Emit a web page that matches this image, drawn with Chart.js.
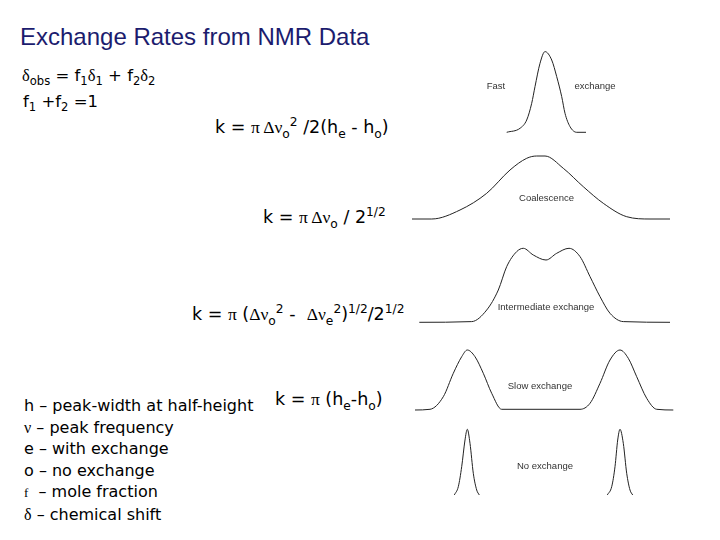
<!DOCTYPE html>
<html lang="en">
<head>
  <meta charset="UTF-8">
  <title>Exchange Rates from NMR Data</title>
  <script src="https://cdn.jsdelivr.net/npm/chart.js"></script>
  <style>
    html, body { margin: 0; padding: 0; background: #fff; }
    body { width: 720px; height: 540px; position: relative; overflow: hidden;
           font-family: "DejaVu Sans", Verdana, sans-serif; color: #000; }
    .t { position: absolute; white-space: nowrap; line-height: 1; }
    .title { left: 20px; top: 25px; font-family: "Liberation Sans", Arial, sans-serif;
             font-size: 24px; color: #1c1c6e; }
    .sym { font-family: "Liberation Serif", "Times New Roman", serif; }
    sub, sup { font-size: 70%; line-height: 0; }
    .eq { font-size: 17.5px; }
    .small { font-size: 16.5px; }
    .legend { left: 24px; top: 395px; font-size: 16px; line-height: 21.5px; }
    #spectra { position: absolute; left: 410px; top: 40px; width: 310px; height: 480px; }
  </style>
</head>
<body>
<div class="t title">Exchange Rates from NMR Data</div>

<div class="t small" style="left:22px; top:68px;"><span class="sym">&delta;</span><sub>obs</sub> = f<sub>1</sub><span class="sym">&delta;</span><sub>1</sub> + f<sub>2</sub><span class="sym">&delta;</span><sub>2</sub></div>
<div class="t small" style="left:23px; top:94px;">f<sub>1</sub> +f<sub>2</sub> =1</div>

<div class="t eq" style="left:215px; top:119px;">k = <span class="sym">&pi; &Delta;&nu;</span><sub>o</sub><sup>2</sup> /2(h<sub>e</sub> - h<sub>o</sub>)</div>
<div class="t eq" style="left:263px; top:209px;">k = <span class="sym">&pi; &Delta;&nu;</span><sub>o</sub> / 2<sup>1/2</sup></div>
<div class="t eq" style="left:192px; top:306px;">k = <span class="sym">&pi;</span> (<span class="sym">&Delta;&nu;</span><sub>o</sub><sup>2</sup> -&nbsp; <span class="sym">&Delta;&nu;</span><sub>e</sub><sup>2</sup>)<sup>1/2</sup>/2<sup>1/2</sup></div>
<div class="t eq" style="left:275px; top:391px;">k = <span class="sym">&pi;</span> (h<sub>e</sub>-h<sub>o</sub>)</div>

<div class="t legend">
  h &ndash; peak-width at half-height<br>
  <span class="sym">&nu;</span> &ndash; peak frequency<br>
  e &ndash; with exchange<br>
  o &ndash; no exchange<br>
  <span class="sym" style="font-size:13px">f</span> &nbsp;&ndash; mole fraction<br>
  <span class="sym">&delta;</span> &ndash; chemical shift
</div>

<div id="spectra"><canvas id="nmrChart"></canvas></div>

<script>
  // frequency offsets (arbitrary units) and peak intensities
  const fastFreq = [-38.3, -25, -18.3, -13.3, -10, -5, 0, 6.7, 11.7, 16.7, 20, 25, 31.7, 41];
  const fastInt  = [0, 4, 12.3, 29, 45.7, 69, 80.7, 72.3, 55.7, 35.7, 19, 5.7, 0, 0];

  const coalFreq = [-133, -113.3, -85, -58.3, -35, -18.3, -8.3, 0, 18.3, 38.3, 58.3, 81.7, 105, 125];
  const coalInt  = [0, 0, 9, 25.7, 49, 60.7, 63, 63, 50.7, 32.3, 15.7, 2.3, 0, 0];

  const interFreq = [-125.7, -73.3, -58.3, -46.7, -38.3, -28.3, -21.7, -11.7, 1, 11.7, 24, 35, 45, 55, 65, 78.3, 125];
  const interInt  = [0, 0.7, 12.3, 32.3, 55.7, 70.7, 74, 67.3, 62.3, 69, 74, 65.7, 45.7, 25.7, 9, 0.7, 0];

  const slowFreq = [-130, -115, -101.7, -91.7, -83.3, -77.7, -70, -61.7, -53.3, -43.3, 35, 45, 55, 65, 75, 83.3, 91.7, 101.7, 111.7, 128.3];
  const slowInt  = [0, 0.7, 13.3, 36.7, 53.3, 60, 53.3, 36.7, 16.7, 0.7, 0.7, 6.7, 26.7, 50, 60, 51.7, 33.3, 11.7, 0.7, 0];

  const noExFreqA = [-90.7, -86.7, -83.3, -80, -77.7, -75, -71.7, -68.3, -65.7];
  const noExFreqB = [62.3, 66.7, 70, 72.7, 75, 78.3, 81.7, 85, 87.7];
  const noExInt   = [0, 8.3, 28.3, 55, 65.7, 51.7, 21.7, 5, 0];

  const spectrumLabels = ["Fast", "exchange", "Coalescence", "Intermediate exchange", "Slow exchange", "No exchange"];

  document.addEventListener("DOMContentLoaded", function () {
    // vertical stacking of the five traces
    const baseFast = 387.7, baseCoal = 301, baseInter = 197.7, baseSlow = 110, baseNone = 25;

    function trace(freq, inten, base) {
      return freq.map((f, i) => ({ x: f, y: base + inten[i] }));
    }

    const lineStyle = {
      borderColor: "#222",
      borderWidth: 1,
      pointRadius: 0,
      fill: false,
      cubicInterpolationMode: "monotone"
    };

    // label spots in the same data units as the traces
    const labelSpots = [
      { x: -49, y: 434 }, { x: 50, y: 434 }, { x: 1.5, y: 322 },
      { x: 1, y: 212.5 }, { x: -5, y: 134 }, { x: 0, y: 54 }
    ];

    const labelPlugin = {
      id: "spectrumLabels",
      afterDatasetsDraw(chart) {
        const c = chart.ctx, xs = chart.scales.x, ys = chart.scales.y;
        c.save();
        c.font = "9.5px 'Liberation Sans', Arial, sans-serif";
        c.fillStyle = "#333";
        c.textAlign = "center";
        c.textBaseline = "middle";
        spectrumLabels.forEach((txt, i) => {
          c.fillText(txt, xs.getPixelForValue(labelSpots[i].x), ys.getPixelForValue(labelSpots[i].y));
        });
        c.restore();
      }
    };

    const ctx = document.getElementById("nmrChart").getContext("2d");
    new Chart(ctx, {
      type: "line",
      data: {
        datasets: [
          { ...lineStyle, data: trace(fastFreq, fastInt, baseFast) },
          { ...lineStyle, data: trace(coalFreq, coalInt, baseCoal) },
          { ...lineStyle, data: trace(interFreq, interInt, baseInter) },
          { ...lineStyle, data: trace(slowFreq, slowInt, baseSlow) },
          { ...lineStyle, data: trace(noExFreqA, noExInt, baseNone) },
          { ...lineStyle, data: trace(noExFreqB, noExInt, baseNone) }
        ]
      },
      options: {
        responsive: true,
        maintainAspectRatio: false,
        animation: false,
        layout: { padding: 0 },
        plugins: { legend: { display: false }, tooltip: { enabled: false } },
        scales: {
          x: { type: "linear", min: -135, max: 175, display: false },
          y: { type: "linear", min: 0, max: 480, display: false }
        }
      },
      plugins: [labelPlugin]
    });
  });
</script>
</body>
</html>
